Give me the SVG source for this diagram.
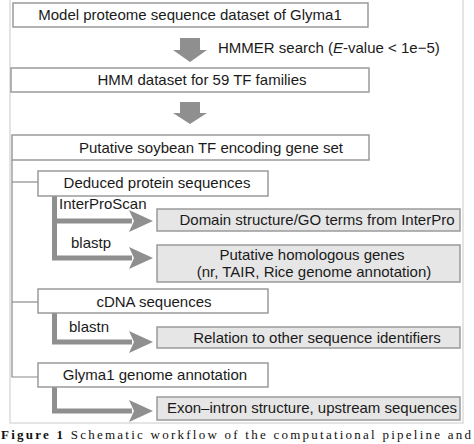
<svg xmlns="http://www.w3.org/2000/svg" width="474" height="444" viewBox="0 0 474 444">
<style>
text{font-family:"Liberation Sans",Arial,sans-serif;font-size:15px;fill:#1a1a1a}
.box{fill:#fff;stroke:#9a9a9a;stroke-width:1.5}
.gbox{fill:#e6e6e6;stroke:#9a9a9a;stroke-width:1.5}
.thin{fill:none;stroke:#8a8a8a;stroke-width:1.2}
.thick{fill:none;stroke:#8f8f8f;stroke-width:5;stroke-linejoin:miter}
.head{fill:#8f8f8f}
.cap{font-family:"Liberation Serif","Times New Roman",serif;font-size:13px;fill:#111}
</style>
<rect x="0" y="0" width="474" height="444" fill="#fff"/>
<rect x="10" y="-2" width="453" height="425" fill="none" stroke="#dcdcdc" stroke-width="1.5"/>
<g id="connectors">
  <polygon class="head" points="180,38 200,38 200,50 207,50 190,62 173,50 180,50"/>
  <polygon class="head" points="180,102 200,102 200,113 207,113 190,124 173,113 180,113"/>
  <polyline class="thin" points="12,160 12,377 38,377"/>
  <line class="thin" x1="12" y1="182" x2="38" y2="182"/>
  <line class="thin" x1="12" y1="302" x2="38" y2="302"/>
  <polyline class="thick" points="54.5,196 54.5,221 132,221"/>
  <polygon class="head" points="129,210 153,221 129,232 134,221"/>
  <polyline class="thick" points="54.5,221 54.5,258 132,258"/>
  <polygon class="head" points="129,247 153,258 129,269 134,258"/>
  <polyline class="thick" points="54.5,313 54.5,342 132,342"/>
  <polygon class="head" points="129,331 153,342 129,353 134,342"/>
  <polyline class="thick" points="54.5,387 54.5,411 132,411"/>
  <polygon class="head" points="129,400 153,411 129,422 134,411"/>
  <text x="218" y="53">HMMER search (<tspan font-style="italic">E</tspan>-value &lt; 1e−5)</text>
  <text x="59" y="209">InterProScan</text>
  <text x="71" y="248">blastp</text>
  <text x="69" y="332">blastn</text>
</g>
<g id="n1"><rect class="box" x="13" y="3" width="355" height="24"/><text x="190" y="20" text-anchor="middle">Model proteome sequence dataset of Glyma1</text></g>
<g id="n2"><rect class="box" x="11" y="68" width="358" height="24"/><text x="202" y="85" text-anchor="middle">HMM dataset for 59 TF families</text></g>
<g id="n3"><rect class="box" x="12" y="135" width="357" height="25"/><text x="211" y="153" text-anchor="middle">Putative soybean TF encoding gene set</text></g>
<g id="n4"><rect class="box" x="38" y="171" width="230" height="25"/><text x="157" y="188" text-anchor="middle">Deduced protein sequences</text></g>
<g id="n5"><rect class="gbox" x="157" y="209" width="303" height="22"/><text x="317" y="225" text-anchor="middle">Domain structure/GO terms from InterPro</text></g>
<g id="n6"><rect class="gbox" x="157" y="245" width="303" height="37"/><text x="312" y="260" text-anchor="middle">Putative homologous genes</text><text x="314" y="277" text-anchor="middle">(nr, TAIR, Rice genome annotation)</text></g>
<g id="n7"><rect class="box" x="38" y="289" width="230" height="24"/><text x="154" y="307" text-anchor="middle">cDNA sequences</text></g>
<g id="n8"><rect class="gbox" x="157" y="327" width="303" height="21"/><text x="317" y="343" text-anchor="middle">Relation to other sequence identifiers</text></g>
<g id="n9"><rect class="box" x="38" y="363" width="230" height="24"/><text x="155" y="380" text-anchor="middle">Glyma1 genome annotation</text></g>
<g id="n10"><rect class="gbox" x="157" y="397" width="303" height="23"/><text x="312" y="413" text-anchor="middle">Exon–intron structure, upstream sequences</text></g>
<text class="cap" x="1" y="439" textLength="470" lengthAdjust="spacing"><tspan font-weight="bold">Figure 1</tspan>  Schematic workflow of the computational pipeline and</text>
</svg>
